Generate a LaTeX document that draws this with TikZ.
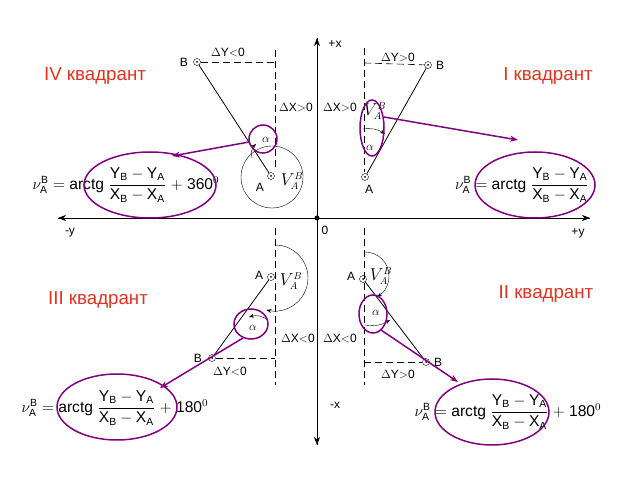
\documentclass[tikz,border=0pt]{standalone}
\usepackage{amsmath}
\usepackage{fontspec}
\setmainfont{Liberation Sans}
\usetikzlibrary{arrows.meta}
\definecolor{pur}{RGB}{128,0,128}
\definecolor{qred}{RGB}{225,50,30}
\begin{document}
\begin{tikzpicture}[x=1pt,y=-1pt,
  dsh/.style={dashed,dash pattern=on 7pt off 4pt,semithick},
  pt/.style={circle,draw,inner sep=0pt,minimum size=7pt,path picture={\fill (path picture bounding box.center) circle (1pt);}},
  lbl/.style={inner sep=1pt,font=\large},
  vl/.style={inner sep=0pt,font=\LARGE},
  fm/.style={inner sep=0pt,scale=1.3,font=\large},
  quad/.style={text=qred,font=\Large,scale=1.3},
  pl/.style={draw=pur,line width=1.5pt},
  pa/.style={pur,line width=1.5pt,-{Stealth[length=8pt]}},
  ax/.style={-{Stealth[length=8pt]},semithick}]
\useasboundingbox (0,0) rectangle (638,478);
% axes
\coordinate (top) at (317,38); \coordinate (bot) at (317,445);
\coordinate (lft) at (58,218); \coordinate (rgt) at (590,218);
\draw[ax] (bot) -- (top);
\draw[ax] (top) -- (bot);
\draw[ax] (rgt) -- (lft);
\draw[ax] (lft) -- (rgt);
\fill (317,218) circle (2.5pt);
\node[lbl] at (335,44) {+x};
\node[lbl] at (335,405) {-x};
\node[lbl] at (70,233) {-y};
\node[lbl] at (578,233) {+y};
\node[lbl] at (325,230) {0};
% quadrant labels
\node[quad] (q4) at (95,76) {IV квадрант};
\node[quad] (q1) at (548,76) {I квадрант};
\node[quad] (q3) at (98,300) {III квадрант};
\node[quad] (q2) at (546,294) {II квадрант};
% ---------- IV
\node[pt] (A4) at (271,176) {}; \node[pt] (B4) at (197,62) {};
\node[lbl] at (184,62) {B}; \node[lbl] at (260,187) {A};
\draw[dsh] (275,50) -- (275,170);
\draw[dsh] (B4) -- (275,62);
\draw[thick] (A4) -- (B4);
\node[lbl] at (228,52) {$\Delta$Y$<$0};
\node[lbl] at (296,107) {$\Delta$X$>$0};
\draw (272,177) circle (31);
\node[vl] at (292,181) {$V^{\scriptscriptstyle B}_{\scriptscriptstyle A}$};
\draw[-{Stealth[length=5pt]}] (252,158) to[bend left=30] (256,144);
\node[lbl] at (266,140) {$\alpha$};
\draw[pl] (263,139) circle (14);
\node[fm] (f4) at (126,185) {$\nu^{\mathrm B}_{\mathrm A}$ $=$ arctg $\dfrac{\mathrm{Y_B - Y_A}}{\mathrm{X_B - X_A}}$ $+$ 360$^0$};
\draw[pl] (150,185) ellipse (66 and 33);
\draw[pa] (249,142) -- (172,156);
% ---------- I
\node[pt] (A1) at (365,177) {}; \node[pt] (B1) at (428,65) {};
\node[lbl] at (440,65) {B}; \node[lbl] at (369,189) {A};
\draw[dsh] (364,48) -- (364,172);
\draw[dsh] (364,63) -- (B1);
\draw[thick] (A1) -- (B1);
\node[lbl] at (398,57) {$\Delta$Y$>$0};
\node[lbl] at (340,107) {$\Delta$X$>$0};
\node[vl] at (375,111) {$V^{\scriptscriptstyle B}_{\scriptscriptstyle A}$};
\draw[-{Stealth[length=5pt]}] (363,129) to[bend left=20] (385,134);
\node[lbl] at (370,148) {$\alpha$};
\draw[pl] (372,128) ellipse (12 and 28);
\node[fm] (f1) at (522,185) {$\nu^{\mathrm B}_{\mathrm A}$ $=$ arctg $\dfrac{\mathrm{Y_B - Y_A}}{\mathrm{X_B - X_A}}$};
\draw[pl] (535,185) ellipse (60 and 33);
\draw[pa] (384,117) -- (518,140);
% ---------- III
\node[pt] (A3) at (271,277) {}; \node[pt] (B3) at (212,358) {};
\node[lbl] at (198,358) {B}; \node[lbl] at (259,275) {A};
\draw[dsh] (275,228) -- (275,385);
\draw[dsh] (B3) -- (275,358);
\draw[thick] (A3) -- (B3);
\node[lbl] at (230,371) {$\Delta$Y$<$0};
\node[lbl] at (298,338) {$\Delta$X$<$0};
\node[vl] at (291,281) {$V^{\scriptscriptstyle B}_{\scriptscriptstyle A}$};
\draw[-{Stealth[length=5pt]}] (275,245) arc[start angle=-90,end angle=105,radius=33];
\draw[-{Stealth[length=5pt]}] (268,320) to[bend right=25] (249,317);
\node[lbl] at (253,328) {$\alpha$};
\draw[pl] (251,324) ellipse (17 and 15);
\node[fm] (f3) at (115,408) {$\nu^{\mathrm B}_{\mathrm A}$ $=$ arctg $\dfrac{\mathrm{Y_B - Y_A}}{\mathrm{X_B - X_A}}$ $+$ 180$^0$};
\draw[pl] (117,407) ellipse (60 and 33);
\draw[pa] (243,338) -- (160,388);
% ---------- II
\node[pt] (A2) at (363,279) {}; \node[pt] (B2) at (426,362) {};
\node[lbl] at (438,362) {B}; \node[lbl] at (351,276) {A};
\draw[dsh] (364,228) -- (364,385);
\draw[dsh] (364,362) -- (B2);
\draw[thick] (A2) -- (B2);
\node[lbl] at (398,374) {$\Delta$Y$>$0};
\node[lbl] at (340,338) {$\Delta$X$<$0};
\node[vl] at (381,276) {$V^{\scriptscriptstyle B}_{\scriptscriptstyle A}$};
\draw[-{Stealth[length=5pt]}] (365,252) arc[start angle=-90,end angle=60,radius=24];
\draw[-{Stealth[length=5pt]}] (365,325) to[bend right=20] (390,320);
\node[lbl] at (376,313) {$\alpha$};
\draw[pl] (373,314) ellipse (14 and 19);
\node[fm] (f2) at (508,412) {$\nu^{\mathrm B}_{\mathrm A}$ $=$ arctg $\dfrac{\mathrm{Y_B - Y_A}}{\mathrm{X_B - X_A}}$ $+$ 180$^0$};
\draw[pl] (492,412) ellipse (57 and 33);
\draw[pa] (381,330) -- (458,382);
\end{tikzpicture}
\end{document}
